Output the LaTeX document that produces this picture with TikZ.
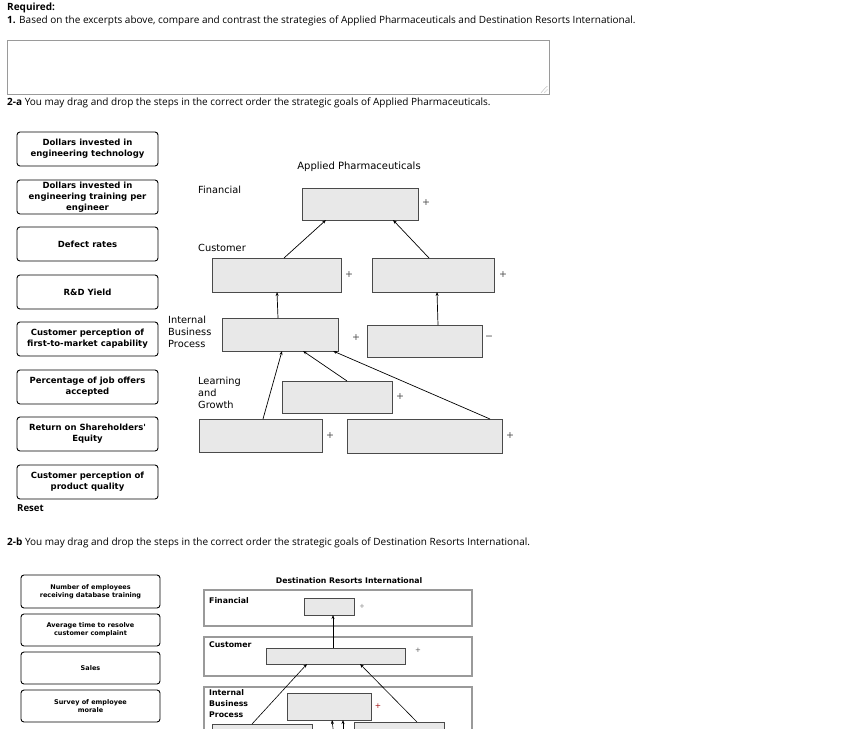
\documentclass[tikz,border=0pt]{standalone}
\usepackage{fontspec}
\setmainfont{Open Sans}
\newfontfamily\vfont{DejaVu Sans}
\usetikzlibrary{arrows.meta}
\definecolor{boxfill}{HTML}{E8E8E8}
\definecolor{boxline}{HTML}{4A4A4A}
\definecolor{panelline}{HTML}{9A9A9A}
\definecolor{plusred}{HTML}{A01010}
\begin{document}
\begin{tikzpicture}[x=1pt,y=-1pt,
  gbox/.style={draw=boxline, fill=boxfill, line width=0.95pt, inner sep=0pt, outer sep=0pt, anchor=north west},
  lbox/.style={draw=black, line width=0.9pt, rounded corners=3pt, inner sep=0pt, outer sep=0pt, anchor=north west,
    minimum width=141pt, minimum height=34pt, align=center, font=\vfont\bfseries\fontsize{8.5}{11}\selectfont},
  sbox/.style={draw=black, line width=0.9pt, rounded corners=3pt, inner sep=0pt, outer sep=0pt, anchor=north west,
    minimum width=139pt, minimum height=32pt, align=center, font=\vfont\bfseries\fontsize{6.5}{8}\selectfont},
  panel/.style={draw=panelline, line width=1.4pt, inner sep=0pt, outer sep=0pt, anchor=north west, minimum width=268pt},
  arr/.style={-{Stealth[length=4pt,width=3pt]}, line width=0.7pt},
  lbl/.style={anchor=west, inner sep=0pt, font=\vfont\fontsize{9.8}{12}\selectfont, align=left},
  blbl/.style={anchor=west, inner sep=0pt, font=\vfont\bfseries\fontsize{7.8}{11}\selectfont, align=left},
  pl/.style={inner sep=0pt, font=\vfont\fontsize{9.5}{9}\selectfont, text=boxline},
  hdr/.style={anchor=west, inner sep=0pt, font=\fontsize{10}{11}\selectfont}
]
\useasboundingbox (0,0) rectangle (848,737);
\fill[white] (0,0) rectangle (848,737);

% ---------- header ----------
\node[hdr] (req) at (7,8) {\textbf{Required:}};
\node[hdr] (q1) at (7,21) {\textbf{1.} Based on the excerpts above, compare and contrast the strategies of Applied Pharmaceuticals and Destination Resorts International.};
\node[draw=panelline, line width=0.9pt, anchor=north west, minimum width=542pt, minimum height=54pt, inner sep=0pt, outer sep=0pt] (ans) at (7,40) {};
\draw[panelline, line width=0.6pt, dash pattern=on 0.8pt off 0.8pt] (541,92.5) -- (547.5,86);
\draw[panelline, line width=0.6pt, dash pattern=on 0.8pt off 0.8pt] (544.5,92.5) -- (547.5,89.5);
\node[hdr] (q2a) at (7,103) {\textbf{2-a} You may drag and drop the steps in the correct order the strategic goals of Applied Pharmaceuticals.};

% ---------- 2-a left boxes ----------
\node[lbox] (a1) at (17,132) {Dollars invested in\\engineering technology};
\node[lbox] (a2) at (17,180) {Dollars invested in\\engineering training per\\engineer};
\node[lbox] (a3) at (17,227) {Defect rates};
\node[lbox] (a4) at (17,275) {R\&D Yield};
\node[lbox] (a5) at (17,322) {Customer perception of\\first-to-market capability};
\node[lbox] (a6) at (17,370) {Percentage of job offers\\accepted};
\node[lbox] (a7) at (17,417) {Return on Shareholders'\\Equity};
\node[lbox] (a8) at (17,465) {Customer perception of\\product quality};
\node[hdr, font=\bfseries\fontsize{9.6}{11}\selectfont] (reset) at (17,508) {Reset};

% ---------- 2-a diagram ----------
\node[inner sep=0pt, font=\vfont\fontsize{10}{10}\selectfont] (apt) at (359,167) {Applied Pharmaceuticals};
\node[lbl] (lfin) at (198,190) {Financial};
\node[lbl] (lcus) at (198,248) {Customer};
\node[lbl, anchor=north west] (libp) at (168,315.5) {Internal\\Business\\Process};
\node[lbl, anchor=north west] (llg) at (198,376.5) {Learning\\and\\Growth};

\node[gbox, minimum width=116pt, minimum height=32pt] (fin) at (302,188) {};
\node[gbox, minimum width=129pt, minimum height=34pt] (c1) at (212,258) {};
\node[gbox, minimum width=122pt, minimum height=34pt] (c2) at (372,258) {};
\node[gbox, minimum width=116pt, minimum height=33pt] (i1) at (222,318) {};
\node[gbox, minimum width=115pt, minimum height=32pt] (i2) at (367,325) {};
\node[gbox, minimum width=110pt, minimum height=32pt] (l2) at (282,381) {};
\node[gbox, minimum width=123pt, minimum height=33pt] (l1) at (199,419) {};
\node[gbox, minimum width=155pt, minimum height=34pt] (l3) at (347,419) {};

\node[pl] (pfin) at (426,203) {+};
\node[pl] (pc1) at (349,275) {+};
\node[pl] (pc2) at (503,275) {+};
\node[pl] (pi1) at (356,338) {+};
\node[pl] (pi2) at (489,338) {−};
\node[pl] (pl2) at (400,397) {+};
\node[pl] (pl1) at (330,436) {+};
\node[pl] (pl3) at (510,436) {+};

\draw[arr] ([xshift=72pt]c1.north west) -- ([xshift=24pt]fin.south west);
\draw[arr] ([xshift=57pt]c2.north west) -- ([xshift=91pt]fin.south west);
\draw[arr] ([xshift=56pt]i1.north west) -- ([xshift=65pt]c1.south west);
\draw[arr] ([xshift=71pt]i2.north west) -- ([xshift=65pt]c2.south west);
\draw[arr] ([xshift=64pt]l1.north west) -- ([xshift=60pt]i1.south west);
\draw[arr] ([xshift=65pt]l2.north west) -- ([xshift=81pt]i1.south west);
\draw[arr] ([xshift=143pt]l3.north west) -- ([xshift=111pt]i1.south west);

% ---------- 2-b ----------
\node[hdr] (q2b) at (7,543) {\textbf{2-b} You may drag and drop the steps in the correct order the strategic goals of Destination Resorts International.};

\node[sbox, minimum height=33pt] (b1) at (21,575) {Number of employees\\receiving database training};
\node[sbox] (b2) at (21,614) {Average time to resolve\\customer complaint};
\node[sbox] (b3) at (21,652) {Sales};
\node[sbox] (b4) at (21,690) {Survey of employee\\morale};

\node[inner sep=0pt, font=\vfont\bfseries\fontsize{7.75}{9}\selectfont] (drt) at (349,581) {Destination Resorts International};

\begin{scope}
\clip (0,0) rectangle (848,728);
\node[panel, minimum height=36pt] (fp) at (204,590) {};
\node[panel, minimum height=39pt] (cp) at (204,637) {};
\node[panel, minimum height=60pt] (ip) at (204,687) {};

\node[blbl] (dfin) at (209,601) {Financial};
\node[blbl] (dcus) at (209,645) {Customer};
\node[blbl, anchor=north west] (dibp) at (209,689.5) {Internal\\Business\\Process};

\node[gbox, minimum width=50pt, minimum height=17pt] (dfb) at (304,598) {};
\node[gbox, minimum width=139pt, minimum height=16pt] (dcb) at (266,648) {};
\node[gbox, minimum width=84pt, minimum height=27pt] (dib) at (287,693) {};
\node[gbox, minimum width=100pt, minimum height=30pt] (dbl) at (212,724) {};
\node[gbox, minimum width=90pt, minimum height=30pt] (dbr) at (354,722) {};

\node[pl, text=gray, font=\vfont\fontsize{6.5}{6}\selectfont] (dpf) at (362,606) {+};
\node[pl, text=gray!70!black, font=\vfont\fontsize{7}{6}\selectfont] (dpc) at (418,650) {+};
\node[pl, text=plusred, font=\vfont\fontsize{7.5}{6}\selectfont] (dpi) at (378,706) {+};

\draw[arr, line width=0.6pt] ([xshift=67pt]dcb.north west) -- ([xshift=29pt]dfb.south west);
\draw[arr, line width=0.6pt] ([xshift=40pt]dbl.north west) -- ([xshift=41pt]dcb.south west);
\draw[arr, line width=0.6pt] ([xshift=63pt]dbr.north west) -- ([xshift=94pt]dcb.south west);
\coordinate (t1) at (335,745);
\coordinate (t2) at (343,745);
\draw[arr, line width=0.6pt] (t1) -- ([xshift=45pt]dib.south west);
\draw[arr, line width=0.6pt] (t2) -- ([xshift=56pt]dib.south west);
\end{scope}
\end{tikzpicture}
\end{document}
